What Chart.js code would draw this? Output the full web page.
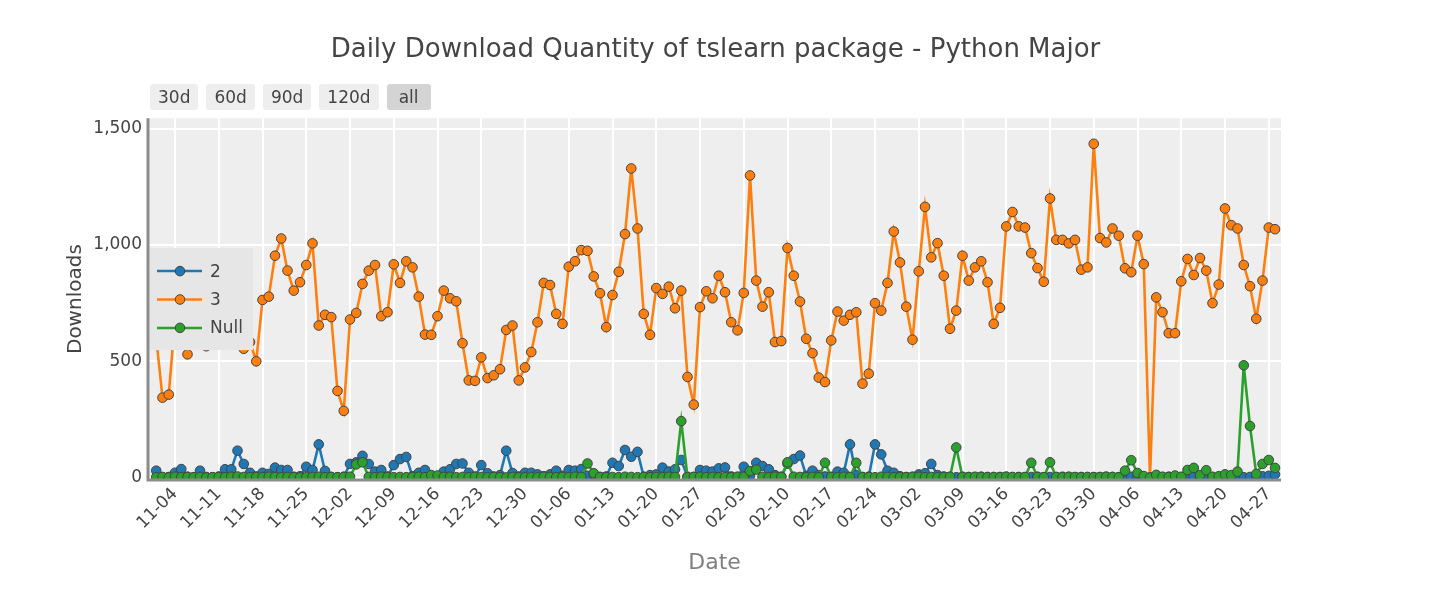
<!DOCTYPE html>
<html>
<head>
<meta charset="utf-8">
<title>tslearn downloads</title>
<script src="https://cdn.jsdelivr.net/npm/chart.js@4.4.1/dist/chart.umd.min.js"></script>
<style>
  body { margin: 0; background: #fff; font-family: 'DejaVu Sans', sans-serif; }
  .chart { position: relative; width: 1431px; height: 600px; }
  .range-buttons { position: absolute; left: 150px; top: 84px; display: flex; gap: 8px; }
  .range-buttons span {
    display: inline-block;
    height: 26px;
    line-height: 26px;
    min-width: 44px;
    padding: 0 8px;
    box-sizing: border-box;
    text-align: center;
    font-size: 17px;
    color: #444;
    background: #eeeeee;
    border-radius: 3px;
  }
  .range-buttons span.active { background: #d4d4d4; }
</style>
</head>
<body>
<div class="chart">
  <canvas id="downloads"></canvas>
  <div class="range-buttons"></div>
</div>
<script>
const startDate = '2023-11-01'
const dayCount = 180

const tickLabels = [
  '11-04', '11-11', '11-18', '11-25', '12-02', '12-09', '12-16', '12-23', '12-30',
  '01-06', '01-13', '01-20', '01-27', '02-03', '02-10', '02-17', '02-24',
  '03-02', '03-09', '03-16', '03-23', '03-30', '04-06', '04-13', '04-20', '04-27',
]
const yTicks = [0, 500, 1000, 1500]
const rangeButtons = ['30d', '60d', '90d', '120d', 'all']

const seriesNames = ['2', '3', 'Null']
const seriesColors = ['#1f77b4', '#ff7f0e', '#2ca02c']

// daily downloads, 11-01 .. 04-28
const python2 = [
  30, 2, 3, 21, 37, 4, 2, 30, 3, 2,
  5, 36, 36, 116, 59, 21, 5, 21, 16, 43,
  33, 33, 4, 6, 47, 33, 143, 29, 3, 2,
  4, 59, 66, 94, 59, 26, 33, 5, 54, 80,
  89, 6, 21, 33, 5, 4, 26, 36, 59, 61,
  21, 4, 54, 19, 5, 11, 116, 20, 5, 21,
  21, 14, 6, 14, 30, 8, 33, 30, 37, 8,
  14, 3, 5, 64, 50, 119, 90, 111, 4, 11,
  14, 43, 26, 36, 76, 4, 3, 33, 30, 26,
  40, 44, 5, 3, 47, 8, 64, 50, 36, 11,
  4, 60, 80, 95, 8, 30, 11, 5, 3, 26,
  21, 143, 10, 3, 4, 143, 100, 30, 21, 6,
  3, 4, 14, 19, 59, 11, 5, 3, 2, 4,
  3, 2, 4, 3, 2, 3, 4, 2, 3, 2,
  3, 4, 2, 3, 2, 4, 3, 2, 3, 2,
  3, 2, 4, 3, 2, 3, 4, 2, 3, 2,
  3, 2, 4, 3, 2, 3, 4, 2, 3, 2,
  3, 2, 4, 3, 2, 3, 4, 6, 8, 14,
]
const python3 = [
  600, 344, 357, 680, 620, 530, 590, 610, 565, 610,
  600, 640, 620, 590, 554, 583, 500, 764, 778, 954,
  1028, 890, 804, 840, 914, 1007, 654, 700, 690, 373,
  287, 680, 708, 833, 890, 914, 694, 711, 917, 837,
  930, 904, 778, 615, 614, 694, 804, 771, 758, 578,
  418, 416, 517, 428, 440, 466, 635, 654, 418, 474,
  540, 668, 837, 828, 704, 661, 907, 930, 978, 975,
  865, 793, 647, 785, 885, 1047, 1329, 1071, 704, 614,
  815, 790, 821, 728, 804, 433, 314, 733, 801, 771,
  868, 797, 668, 633, 794, 1299, 847, 735, 797, 583,
  587, 987, 868, 757, 597, 535, 430, 411, 590, 714,
  675, 700, 711, 404, 447, 750, 718, 837, 1058, 925,
  735, 593, 887, 1164, 947, 1008, 868, 640, 718, 954,
  847, 904, 930, 840, 661, 730, 1080, 1142, 1080, 1075,
  965, 901, 842, 1200, 1022, 1022, 1007, 1022, 894, 904,
  1435, 1030, 1011, 1071, 1040, 900, 883, 1040, 918, 0,
  775, 711, 621, 621, 844, 940, 871, 944, 890, 750,
  830, 1157, 1085, 1071, 914, 823, 683, 847, 1075, 1068,
]
const pythonNull = [
  2, 3, 1, 4, 2, 3, 2, 3, 1, 2,
  3, 2, 4, 5, 3, 2, 3, 2, 4, 3,
  2, 3, 2, 1, 2, 3, 4, 2, 3, 2,
  3, 4, 57, 66, 3, 2, 4, 3, 2, 3,
  2, 3, 4, 2, 11, 9, 3, 4, 2, 3,
  2, 4, 3, 2, 3, 2, 1, 3, 2, 2,
  3, 2, 4, 3, 2, 3, 2, 4, 3, 61,
  19, 3, 2, 3, 2, 4, 3, 2, 3, 2,
  3, 2, 4, 3, 243, 2, 3, 4, 2, 3,
  2, 3, 2, 4, 3, 28, 35, 3, 2, 4,
  3, 66, 4, 3, 2, 3, 2, 64, 3, 2,
  4, 3, 64, 2, 3, 2, 4, 3, 2, 3,
  2, 3, 4, 2, 3, 2, 3, 4, 130, 3,
  2, 4, 3, 2, 3, 2, 4, 3, 2, 3,
  64, 3, 2, 66, 3, 2, 4, 3, 2, 3,
  2, 3, 4, 3, 2, 30, 75, 20, 7, 0,
  12, 4, 3, 9, 4, 33, 42, 11, 32, 4,
  6, 14, 11, 26, 483, 222, 16, 59, 76, 42,
]

function buildDates(start, count) {
  const first = new Date(start + 'T00:00:00Z')
  const dates = []
  for (let i = 0; i < count; i++) {
    const day = new Date(first.getTime() + i * 86400000)
    const mm = String(day.getUTCMonth() + 1).padStart(2, '0')
    const dd = String(day.getUTCDate()).padStart(2, '0')
    dates.push(mm + '-' + dd)
  }
  return dates
}

const dates = buildDates(startDate, dayCount)

// plot background, drawn under the grid
const plotBackground = {
  id: 'plotBackground',
  beforeDraw(chart) {
    const { ctx, chartArea } = chart
    ctx.save()
    ctx.fillStyle = '#eeeeee'
    ctx.fillRect(chartArea.left, chartArea.top, chartArea.width, chartArea.height)
    ctx.restore()
  },
}

// axis lines sit on top of the markers, like in plotly
const axisLines = {
  id: 'axisLines',
  afterDatasetsDraw(chart) {
    const { ctx, chartArea } = chart
    ctx.save()
    ctx.strokeStyle = '#8c8c8c'
    ctx.lineWidth = 3
    ctx.beginPath()
    ctx.moveTo(chartArea.left, chartArea.top)
    ctx.lineTo(chartArea.left, chartArea.bottom)
    ctx.lineTo(chartArea.right, chartArea.bottom)
    ctx.stroke()
    ctx.restore()
  },
}

// legend box floating inside the plot, vertically centred
const floatingLegend = {
  id: 'floatingLegend',
  afterDraw(chart) {
    const { ctx, chartArea } = chart
    const left = chartArea.left + 2
    const top = (chartArea.top + chartArea.bottom) / 2 - 51

    ctx.save()
    ctx.fillStyle = '#e6e6e6'
    ctx.fillRect(left, top, 103, 102)

    chart.data.datasets.forEach((dataset, index) => {
      const y = top + 23 + index * 28.4

      ctx.strokeStyle = dataset.borderColor
      ctx.lineWidth = 2.5
      ctx.beginPath()
      ctx.moveTo(left + 7, y)
      ctx.lineTo(left + 52, y)
      ctx.stroke()

      ctx.beginPath()
      ctx.arc(left + 30, y, 4.8, 0, Math.PI * 2)
      ctx.fillStyle = dataset.backgroundColor
      ctx.fill()
      ctx.lineWidth = 1
      ctx.strokeStyle = '#444'
      ctx.stroke()

      ctx.fillStyle = '#444'
      ctx.font = '17px "DejaVu Sans"'
      ctx.textBaseline = 'middle'
      ctx.fillText(dataset.label, left + 60, y + 1)
    })
    ctx.restore()
  },
}

function renderButtons() {
  const holder = document.querySelector('.range-buttons')
  for (const label of rangeButtons) {
    const button = document.createElement('span')
    button.textContent = label
    if (label === 'all') button.classList.add('active')
    holder.append(button)
  }
}

function renderChart() {
  const ctx = document.getElementById('downloads').getContext('2d')
  const seriesValues = [python2, python3, pythonNull]

  Chart.defaults.font.family = '"DejaVu Sans", sans-serif'
  Chart.defaults.color = '#444'

  const datasets = seriesValues.map((values, index) => ({
    label: seriesNames[index],
    data: values.map((y, x) => ({ x, y })),
    borderColor: seriesColors[index],
    backgroundColor: seriesColors[index],
    borderWidth: 2.6,
    pointRadius: 4.8,
    pointBorderWidth: 1,
    pointBorderColor: '#444',
    pointBackgroundColor: seriesColors[index],
    tension: 0,
    order: 3 - index,
  }))

  new Chart(ctx, {
    type: 'line',
    data: { datasets },
    plugins: [plotBackground, axisLines, floatingLegend],
    options: {
      responsive: true,
      maintainAspectRatio: false,
      animation: false,
      layout: {
        padding: { left: 60, right: 60, top: 35, bottom: 20 },
      },
      plugins: {
        legend: { display: false },
        tooltip: { enabled: false },
        title: {
          display: true,
          text: 'Daily Download Quantity of tslearn package - Python Major',
          font: { size: 26, weight: 'normal' },
          color: '#444',
          padding: { top: 0, bottom: 52 },
        },
      },
      scales: {
        x: {
          type: 'linear',
          min: -1.32,
          max: 179.96,
          afterBuildTicks: (scale) => {
            scale.ticks = tickLabels.map((label) => ({ value: dates.indexOf(label) }))
          },
          afterFit: (scale) => {
            scale.height = 100
          },
          ticks: {
            callback: (value) => dates[value],
            minRotation: 45,
            maxRotation: 45,
            autoSkip: false,
            font: { size: 17 },
            color: '#444',
            padding: 4,
          },
          grid: { color: '#ffffff', lineWidth: 2, drawTicks: false },
          border: { display: false },
          title: {
            display: true,
            text: 'Date',
            font: { size: 22 },
            color: '#7f7f7f',
            padding: { top: 0, bottom: 4 },
          },
        },
        y: {
          min: -10,
          max: 1545,
          afterBuildTicks: (scale) => {
            scale.ticks = yTicks.map((value) => ({ value }))
          },
          afterFit: (scale) => {
            scale.width = 88
          },
          ticks: {
            callback: (value) => value.toLocaleString('en-US'),
            font: { size: 17 },
            color: '#444',
            padding: 6,
          },
          grid: { color: '#ffffff', lineWidth: 2, drawTicks: false },
          border: { display: false },
          title: {
            display: true,
            text: 'Downloads',
            font: { size: 20 },
            color: '#444',
            padding: { top: 4, bottom: 0 },
          },
        },
        // empty right margin so the title centres on the page, as in plotly
        margin: {
          position: 'right',
          min: 0,
          max: 1,
          afterFit: (scale) => {
            scale.width = 90
          },
          ticks: { display: false },
          grid: { display: false },
          border: { display: false },
        },
      },
    },
  })
}

renderButtons()
renderChart()
</script>
</body>
</html>
